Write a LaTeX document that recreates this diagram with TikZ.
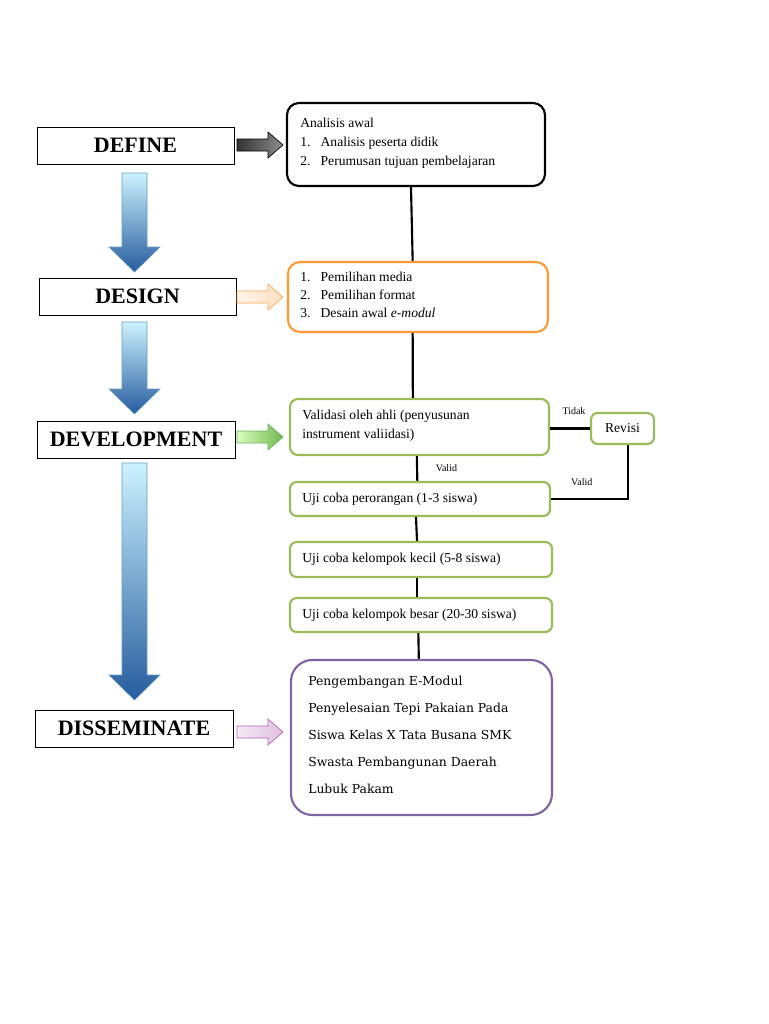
\documentclass[tikz,border=0pt]{standalone}
\usepackage{fontspec}
\setmainfont{Liberation Serif}
\newfontfamily\modfont{DejaVu Serif}
\begin{document}
\begin{tikzpicture}[x=0.75pt,y=-0.75pt,
 stage/.style={draw,line width=0.6pt,font=\bfseries\fontsize{16.5}{18}\selectfont,inner sep=0pt},
 rbox/.style={draw,rounded corners=9pt,line width=1.6pt,inner sep=0pt},
 conn/.style={line width=1.6pt},
 lbl/.style={font=\fontsize{7.5}{9}\selectfont},
 txt/.style={font=\fontsize{10.2}{14.3}\selectfont,align=left,anchor=north west,inner sep=0pt}]
\useasboundingbox (0,0) rectangle (768,1024);
% stage boxes
\node[stage,minimum width=197*0.75pt,minimum height=37*0.75pt] (def) at (135.5,145.5) {DEFINE};
\node[stage,minimum width=197*0.75pt,minimum height=37*0.75pt] (des) at (137.5,296.5) {DESIGN};
\node[stage,minimum width=198*0.75pt,minimum height=37*0.75pt] (dev) at (136,439.5) {DEVELOPMENT};
\node[stage,minimum width=198*0.75pt,minimum height=37*0.75pt] (dis) at (134,728.5) {DISSEMINATE};
% down arrows
\def\darrow#1#2{\shade[top color=blue!25!cyan!20,bottom color=blue!55!cyan!55!black!85,draw=blue!40!cyan!60!black!60,line width=0.4pt]
 (122,#1) -- (147,#1) -- (147,#2-25) -- (160,#2-25) -- (134.5,#2) -- (109,#2-25) -- (122,#2-25) -- cycle;}
\darrow{173}{272}
\darrow{322}{414}
\darrow{463}{700}
% right arrows
\def\rarrow#1#2#3#4{\shade[left color=#2,right color=#3,draw=#4,line width=0.5pt]
 (237,#1-6) -- (268,#1-6) -- (268,#1-13) -- (283,#1) -- (268,#1+13) -- (268,#1+6) -- (237,#1+6) -- cycle;}
\rarrow{145}{black!80}{black!45}{black}
\rarrow{297}{orange!8}{orange!25}{orange!70}
\rarrow{437}{green!50!lime!25}{green!50!lime!60!black!70}{green!50!black!60}
\rarrow{732}{violet!8}{violet!25}{violet!60}
% process boxes
\node[rbox,draw=black,minimum width=258*0.75pt,minimum height=83*0.75pt] (b1) at (416,144.5) {};
\node[txt] at (300,118) {Analisis awal\\1.\hspace{0.75em}Analisis peserta didik\\2.\hspace{0.75em}Perumusan tujuan pembelajaran};
\node[rbox,draw=orange!80,minimum width=260*0.75pt,minimum height=70*0.75pt] (b2) at (418,297) {};
\node[txt,font=\fontsize{10.2}{13.5}\selectfont] at (300,272) {1.\hspace{0.75em}Pemilihan media\\2.\hspace{0.75em}Pemilihan format\\3.\hspace{0.75em}Desain awal \textit{e-modul}};
\definecolor{gr}{RGB}{155,187,89}
\node[rbox,draw=gr,rounded corners=6pt,minimum width=259*0.75pt,minimum height=56*0.75pt] (b3) at (419.5,427) {};
\node[txt] at (302,410) {Validasi oleh ahli (penyusunan\\instrument valiidasi)};
\node[rbox,draw=gr,rounded corners=5pt,minimum width=63*0.75pt,minimum height=31*0.75pt,font=\fontsize{10.2}{12}\selectfont] (rev) at (622.5,428.5) {Revisi};
\node[rbox,draw=gr,rounded corners=5pt,minimum width=260*0.75pt,minimum height=34*0.75pt] (b4) at (420,499) {};
\node[txt,anchor=west] at (302,499) {Uji coba perorangan (1-3 siswa)};
\node[rbox,draw=gr,rounded corners=5pt,minimum width=262*0.75pt,minimum height=35*0.75pt] (b5) at (421,559.5) {};
\node[txt,anchor=west] at (302,559.5) {Uji coba kelompok kecil (5-8 siswa)};
\node[rbox,draw=gr,rounded corners=5pt,minimum width=262*0.75pt,minimum height=34*0.75pt] (b6) at (421,615) {};
\node[txt,anchor=west] at (302,615) {Uji coba kelompok besar (20-30 siswa)};
\definecolor{pu}{RGB}{128,100,162}
\node[rbox,draw=pu,rounded corners=16pt,minimum width=261*0.75pt,minimum height=155*0.75pt] (b7) at (421.5,737.5) {};
\node[txt,font=\modfont\fontsize{9.3}{20.3}\selectfont] at (308,676) {Pengembangan E-Modul\\Penyelesaian Tepi Pakaian Pada\\Siswa Kelas X Tata Busana SMK\\Swasta Pembangunan Daerah\\Lubuk Pakam};
% connectors
\draw[conn] (b1.south) ++(-5,0) -- ([xshift=-4]b2.north);
\draw[conn] ([xshift=-4]b2.south) -- ([xshift=-5]b3.north);
\draw[conn] ([xshift=-2]b3.south) -- ([xshift=-2]b4.north) node[lbl,midway,right=10pt] {Valid};
\draw[conn] (b3.east |- rev.west) -- (rev.west) node[lbl,pos=0.6,above=6pt] {Tidak};
\coordinate (rc) at ([xshift=4]rev.south |- b4.east);
\draw[conn] ([xshift=4]rev.south) -- (rc) -- (b4.east) node[lbl,pos=0.6,above=6pt] {Valid};
\draw[conn] ([xshift=-3]b4.south) -- ([xshift=-3]b5.north);
\draw[conn] ([xshift=-3]b5.south) -- ([xshift=-3]b6.north);
\draw[conn] ([xshift=-2]b6.south) -- ([xshift=-2]b7.north);
\end{tikzpicture}
\end{document}
